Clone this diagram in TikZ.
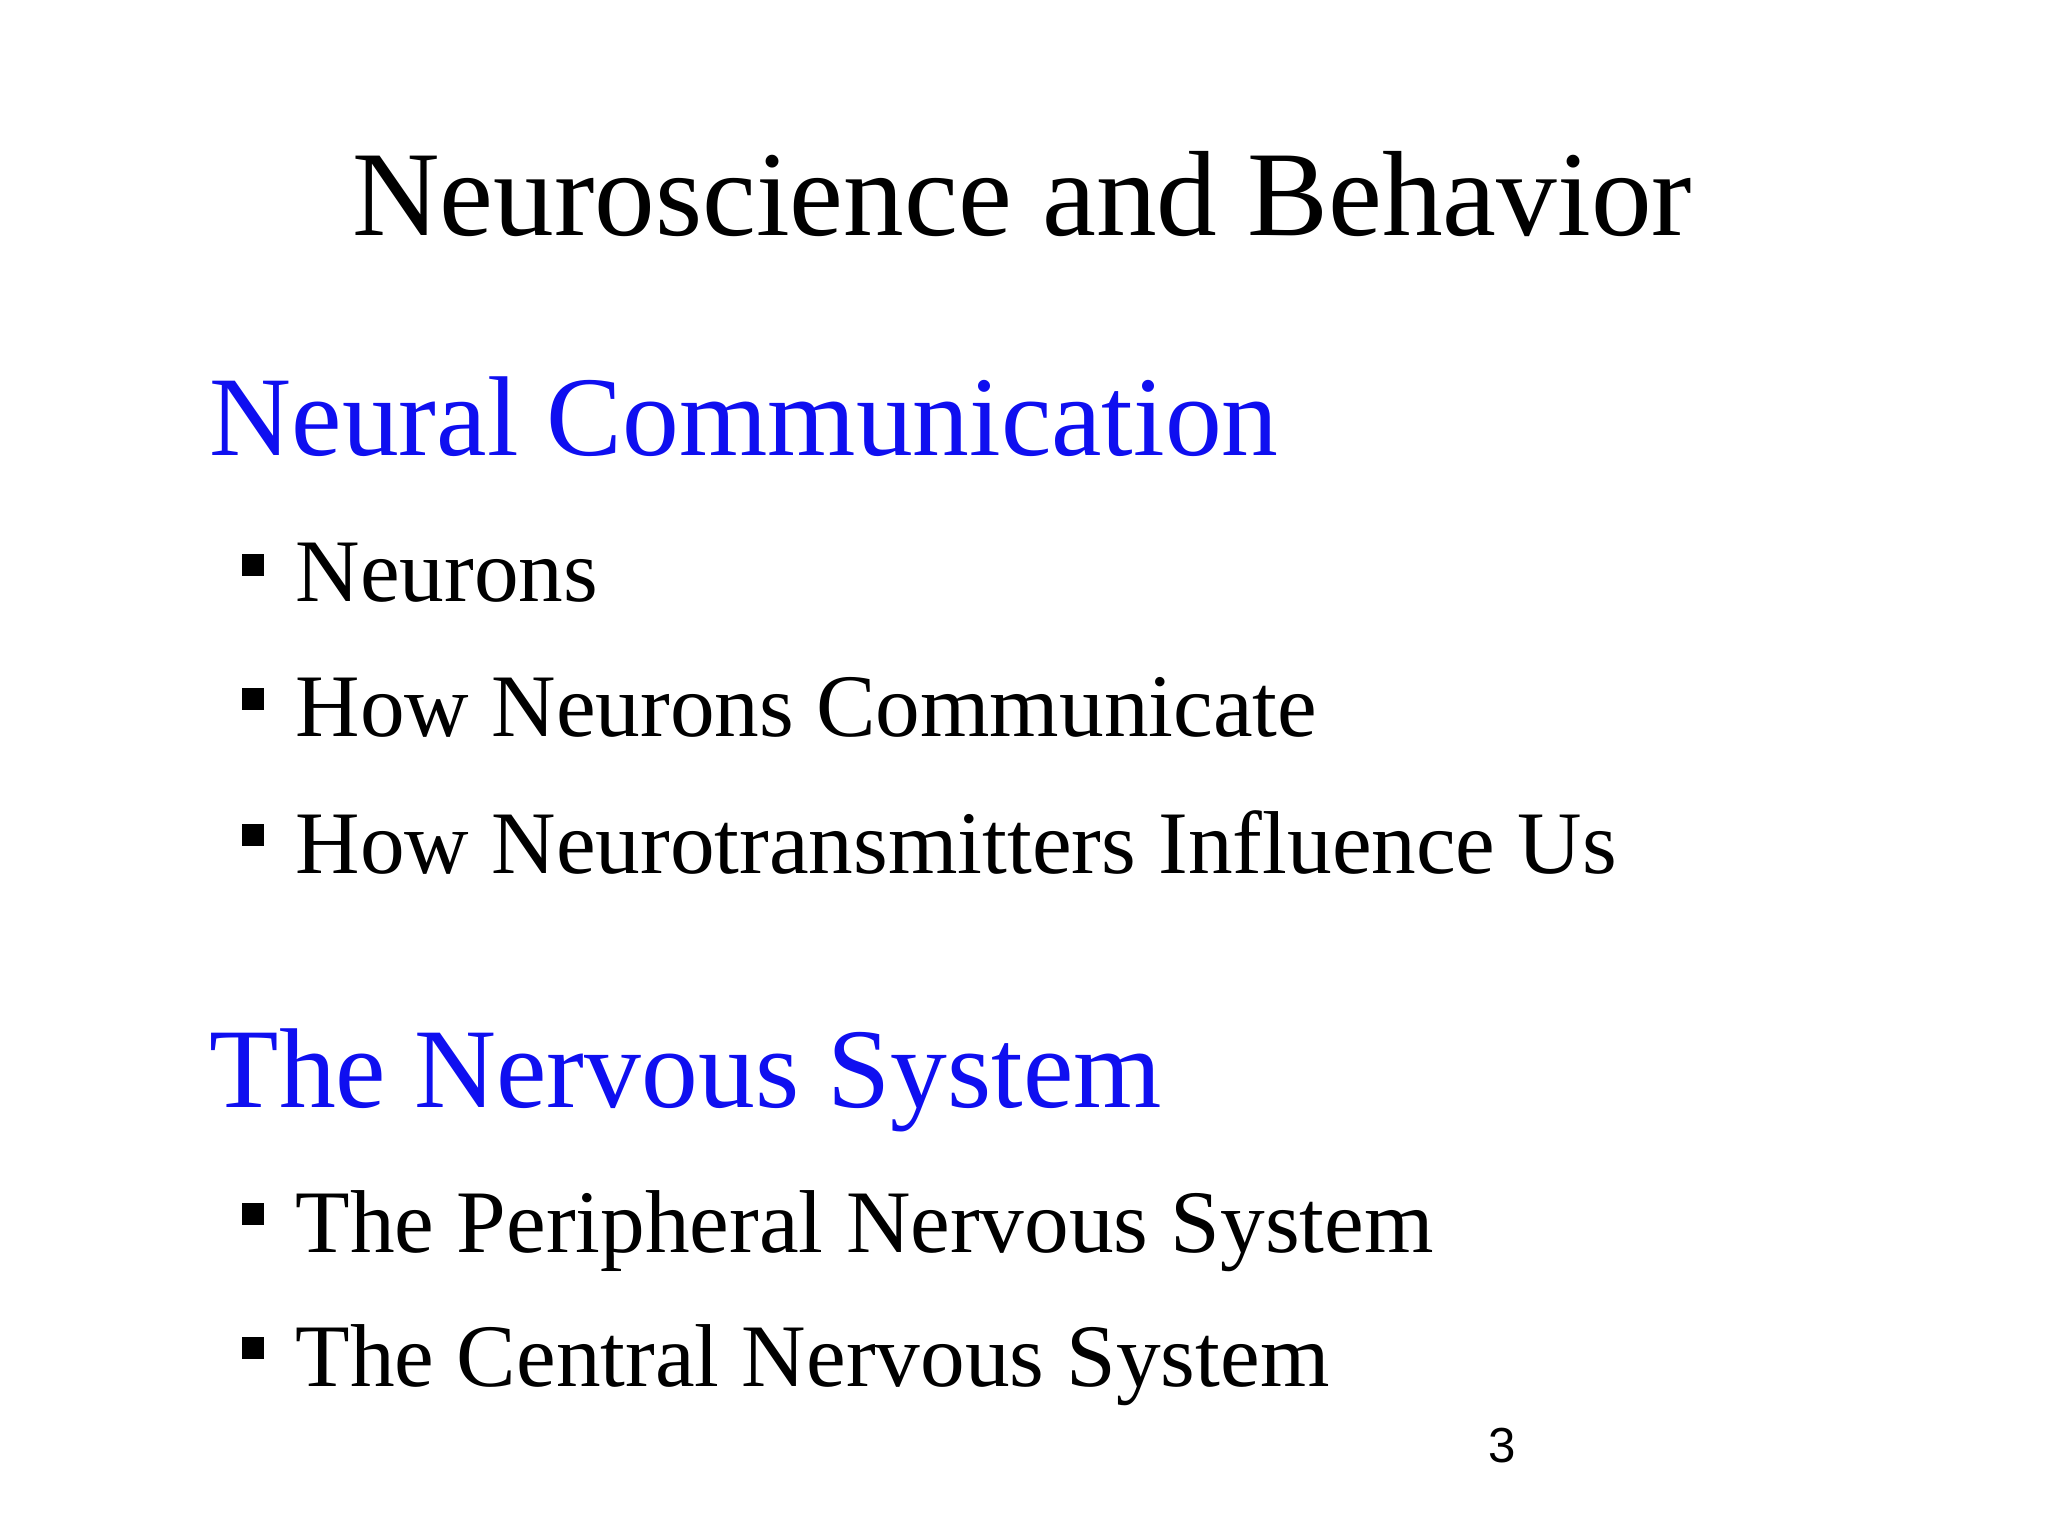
\documentclass[tikz,border=0pt]{standalone}
\usepackage{fontspec}
\setmainfont{Liberation Serif}
\setsansfont{Liberation Sans}
\definecolor{headblue}{RGB}{15,15,240}
\begin{document}
\begin{tikzpicture}[x=1cm,y=-1cm,
  title/.style={anchor=base,font=\fontsize{34.5}{40}\selectfont,inner sep=0},
  head/.style={anchor=base west,text=headblue,font=\fontsize{32.3}{38}\selectfont,inner sep=0},
  item/.style={anchor=base west,font=\fontsize{25.4}{30}\selectfont,inner sep=0},
  sq/.style={fill=black,minimum size=0.22cm,inner sep=0}]
\useasboundingbox[fill=white] (0,0) rectangle (20.48,15.36);
\node[title] (t) at (10.22,2.36) {Neuroscience and Behavior};
\node[head] (h1) at (2.09,4.56) {Neural Communication};
\node[item] (a1) at (2.95,6.02) {Neurons};
\node[item] (a2) at (2.95,7.37) {How Neurons Communicate};
\node[item] (a3) at (2.95,8.73) {How Neurotransmitters Influence Us};
\node[head] (h2) at (2.09,11.07) {The Nervous System};
\node[item] (b1) at (2.95,12.52) {The Peripheral Nervous System};
\node[item] (b2) at (2.95,13.86) {The Central Nervous System};
\foreach \y [count=\i] in {5.65,6.99,8.35,12.14,13.48}
  \node[sq] (s\i) at (2.53,\y) {};
\node[anchor=base,font=\sffamily\fontsize{14}{16}\selectfont,inner sep=0] (p) at (15.02,14.62) {3};
\end{tikzpicture}
\end{document}
